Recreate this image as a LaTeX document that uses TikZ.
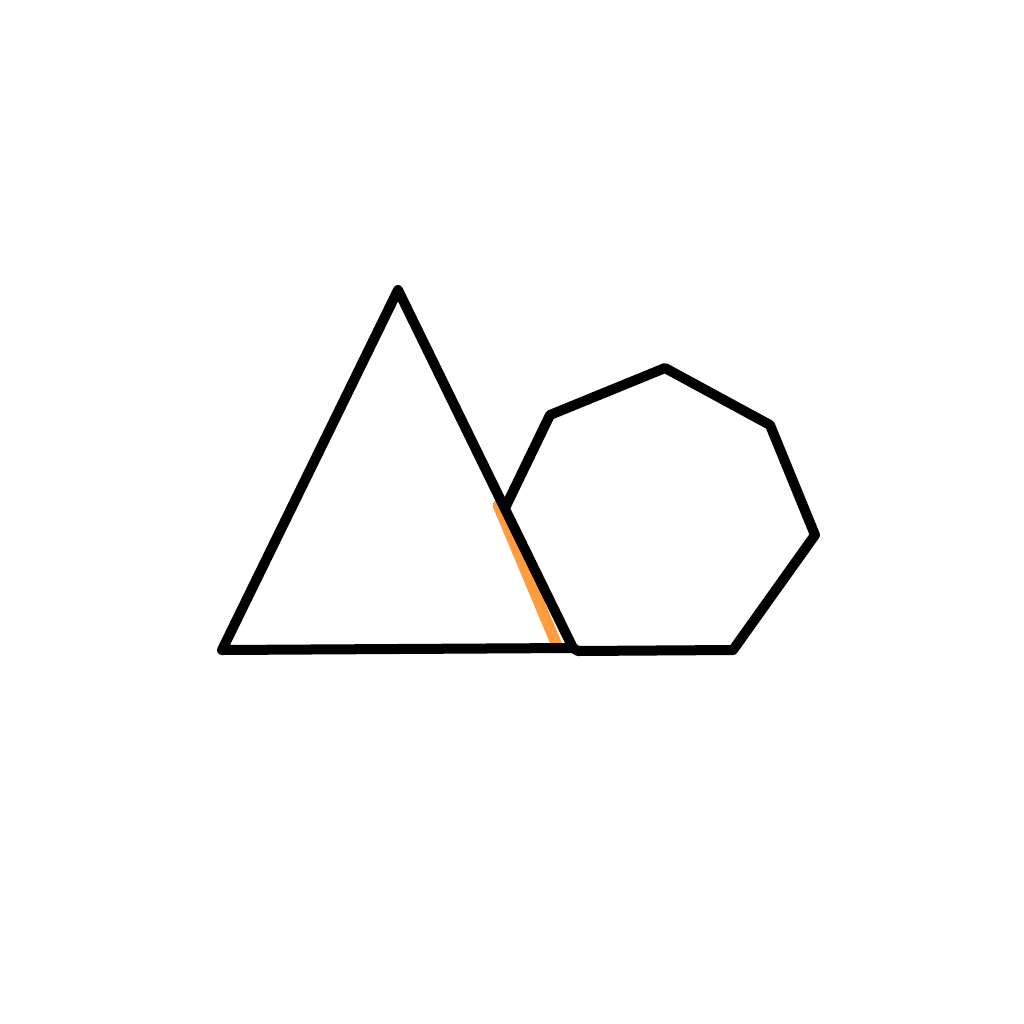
\documentclass[tikz,border=0pt]{standalone}
\begin{document}
\begin{tikzpicture}[x=0.01cm,y=-0.01cm,
  outline/.style={draw=black,line width=0.1cm,line join=round,line cap=round},
  glow/.style={draw=orange!85!red!90!yellow,line width=0.11cm,line cap=round,opacity=0.75}]
\useasboundingbox (0,0) rectangle (1024,1024);
\fill[white] (0,0) rectangle (1024,1024);
% triangle vertices
\coordinate (tA) at (398,290);
\coordinate (tB) at (222,650);
\coordinate (tC) at (573,648);
% heptagon vertices
\coordinate (h1) at (505,508);
\coordinate (h2) at (550,415);
\coordinate (h3) at (665,368);
\coordinate (h4) at (770,425);
\coordinate (h5) at (815,535);
\coordinate (h6) at (733,650);
\coordinate (h7) at (578,651);
\coordinate (g1) at (498,505);
\coordinate (g2) at (558,648);
\draw[glow] (g1) -- (g2);
\draw[outline] (tA) -- (tB) -- (tC) -- cycle;
\draw[outline] (h1) -- (h2) -- (h3) -- (h4) -- (h5) -- (h6) -- (h7) -- (tC);
\end{tikzpicture}
\end{document}
